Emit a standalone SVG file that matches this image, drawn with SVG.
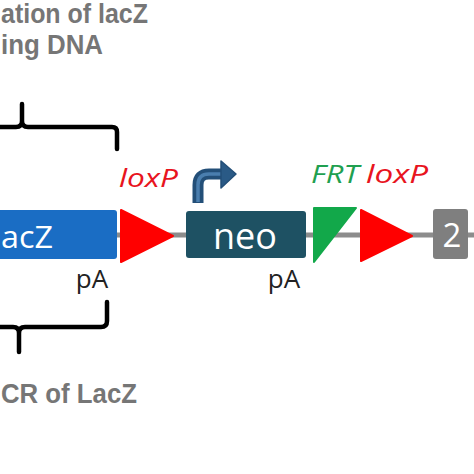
<svg xmlns="http://www.w3.org/2000/svg" width="474" height="474" viewBox="0 0 474 474">
  <style>
    .title { font-family: "Liberation Sans", Arial, sans-serif; font-weight: bold; font-size: 27px; fill: #767676; }
    .box-label { font-family: "Open Sans", "Noto Sans", sans-serif; fill: #ffffff; }
    .pa { font-family: "Open Sans", "Noto Sans", sans-serif; font-size: 26px; fill: #222222; }
    .site { font-family: "Open Sans", "Noto Sans", sans-serif; font-style: italic; font-size: 26px; }
    .brace { fill: none; stroke: #000000; stroke-width: 4.5; stroke-linecap: round; stroke-linejoin: round; }
  </style>
  <rect width="474" height="474" fill="#ffffff"/>

  <g id="connectors">
    <line x1="0" y1="235" x2="474" y2="235" stroke="#8c8c8c" stroke-width="5"/>
  </g>

  <g id="title-top">
    <text class="title" x="1" y="23" textLength="147" lengthAdjust="spacingAndGlyphs">ation of lacZ</text>
    <text class="title" x="1" y="54" textLength="102" lengthAdjust="spacingAndGlyphs">ing DNA</text>
  </g>

  <g id="bracket-top">
    <path class="brace" d="M-3,127 H16 Q22,127 22,121 V104 M22,121 Q22,127 28,127 H112 Q117,127 117,132 V149"/>
  </g>

  <g id="lacZ">
    <rect x="-6" y="210" width="123" height="49" rx="3" fill="#1a6dc4"/>
    <text class="box-label" x="1" y="248" font-size="31" textLength="52" lengthAdjust="spacingAndGlyphs">acZ</text>
    <text class="pa" x="92" y="288" text-anchor="middle">pA</text>
  </g>

  <g id="loxP1">
    <polygon points="121,210 173,236 121,262" fill="#ff0000" stroke="#ff0000" stroke-width="2" stroke-linejoin="round"/>
    <text class="site" x="119" y="187" fill="#e8141e" textLength="59" lengthAdjust="spacingAndGlyphs">loxP</text>
  </g>

  <g id="promoter">
    <path d="M198,203 V185 Q198,174 209,174 H223" fill="none" stroke="#234f78" stroke-width="11"/>
    <path d="M198,202 V185 Q198,174 209,174 H223" fill="none" stroke="#4a7eae" stroke-width="3.5"/>
    <polygon points="221,161 236,174 221,188" fill="#2a5a86" stroke="#234f78" stroke-width="1.5" stroke-linejoin="round"/>
  </g>

  <g id="neo">
    <rect x="186" y="211" width="120" height="47" rx="3" fill="#1e5163"/>
    <text class="box-label" x="245" y="249" font-size="36" text-anchor="middle">neo</text>
    <text class="pa" x="284" y="288" text-anchor="middle">pA</text>
  </g>

  <g id="FRT">
    <polygon points="314,208 356,208 314,262" fill="#12a84a" stroke="#12a84a" stroke-width="2" stroke-linejoin="round"/>
    <text class="site" x="311" y="183" fill="#1fa050" textLength="48" lengthAdjust="spacingAndGlyphs">FRT</text>
  </g>

  <g id="loxP2">
    <polygon points="361,210 412,236 361,261" fill="#ff0000" stroke="#ff0000" stroke-width="2" stroke-linejoin="round"/>
    <text class="site" x="366" y="183" fill="#e8141e" textLength="62" lengthAdjust="spacingAndGlyphs">loxP</text>
  </g>

  <g id="exon2">
    <rect x="433" y="209" width="35" height="50" rx="3" fill="#7f7f7f"/>
    <text class="box-label" x="452" y="247" font-size="33" text-anchor="middle">2</text>
  </g>

  <g id="bracket-bottom">
    <path class="brace" d="M107,302 V321 Q107,327 101,327 H25 Q19,327 19,333 V352 M19,333 Q19,327 13,327 H-3"/>
  </g>

  <g id="title-bottom">
    <text class="title" x="1" y="403" textLength="136" lengthAdjust="spacingAndGlyphs">CR of LacZ</text>
  </g>
</svg>
